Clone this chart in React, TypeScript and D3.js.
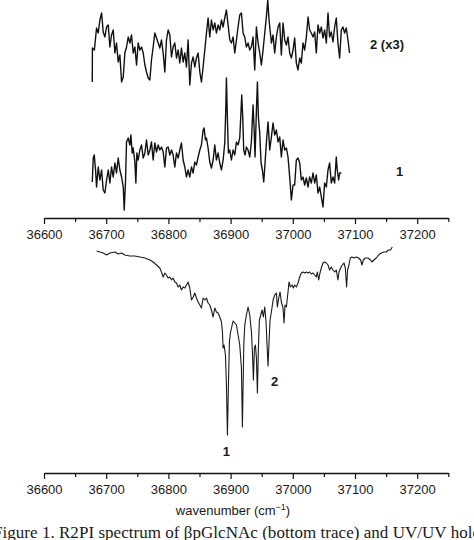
import React, { useEffect, useRef } from 'react';
import * as d3 from 'd3';

const WIDTH = 474;
const HEIGHT = 540;

const WAVENUMBER_DOMAIN = [36600, 37250];
const MAJOR_TICKS = [36600, 36700, 36800, 36900, 37000, 37100, 37200];
const MINOR_TICKS = [36650, 36750, 36850, 36950, 37050, 37150, 37250];

// UV/UV hole-burning spectrum via band 2 (x3) — [wavenumber, signal]
const TRACE_2_X3 = [
  [36677.6, 8], [36677.8, 42], [36681.0, 40], [36684.5, 62], [36687.2, 57], [36689.9, 70], [36692.6, 77], [36695.2, 58],
  [36697.9, 53], [36700.6, 63], [36703.3, 65], [36705.9, 43], [36708.6, 55], [36711.3, 60], [36714.0, 37], [36716.6, 47],
  [36719.3, 28], [36722.0, 35], [36724.7, 8], [36727.4, 13], [36730.0, 37], [36732.7, 43], [36735.4, 53], [36738.1, 47],
  [36740.7, 55], [36743.4, 37], [36746.1, 43], [36748.8, 25], [36751.4, 47], [36754.1, 40], [36756.8, 43], [36759.5, 37],
  [36762.2, 25], [36764.8, 18], [36767.5, 12], [36770.2, 10], [36772.8, 30], [36775.5, 43], [36778.2, 57], [36780.9, 52],
  [36783.6, 47], [36786.2, 42], [36788.9, 50], [36791.6, 37], [36794.3, 18], [36796.9, 50], [36799.6, 60], [36802.3, 55],
  [36805.0, 33], [36807.6, 43], [36810.3, 47], [36813.0, 32], [36815.7, 40], [36818.3, 27], [36821.0, 42], [36823.7, 28],
  [36826.4, 37], [36829.0, 23], [36831.7, 50], [36834.4, 5], [36837.1, 27], [36839.8, 33], [36842.4, 23], [36845.1, 32],
  [36847.8, 37], [36850.5, 18], [36853.1, 8], [36855.8, 23], [36858.5, 40], [36861.2, 57], [36863.8, 72], [36866.5, 53],
  [36869.2, 70], [36871.9, 60], [36874.6, 67], [36877.2, 57], [36879.9, 65], [36882.6, 60], [36885.3, 70], [36887.9, 63],
  [36890.6, 72], [36893.3, 80], [36896.0, 65], [36898.7, 50], [36901.3, 47], [36904.0, 53], [36906.7, 37], [36909.4, 50],
  [36912.0, 63], [36914.7, 75], [36917.4, 77], [36920.1, 57], [36922.7, 53], [36925.4, 43], [36928.1, 47], [36930.8, 40],
  [36933.4, 43], [36936.1, 53], [36938.8, 20], [36941.5, 63], [36944.2, 47], [36946.8, 37], [36949.5, 25], [36952.2, 40],
  [36954.9, 57], [36957.5, 73], [36959.7, 90], [36961.8, 70], [36964.0, 57], [36965.6, 47], [36968.2, 55], [36970.9, 37],
  [36973.6, 53], [36976.3, 63], [36979.0, 67], [36981.6, 35], [36984.3, 67], [36987.0, 50], [36989.7, 45], [36992.3, 53],
  [36995.0, 37], [36997.7, 32], [37000.4, 40], [37003.0, 52], [37005.7, 27], [37008.4, 20], [37011.1, 32], [37013.7, 27],
  [37016.4, 47], [37019.1, 40], [37021.8, 53], [37024.5, 73], [37027.1, 60], [37029.8, 57], [37032.5, 53], [37035.2, 58],
  [37037.8, 37], [37040.5, 65], [37043.2, 57], [37045.9, 63], [37048.5, 52], [37051.2, 60], [37053.9, 47], [37056.6, 77],
  [37059.2, 53], [37061.9, 58], [37064.6, 48], [37067.3, 63], [37069.9, 72], [37072.6, 47], [37075.3, 32], [37078.0, 60],
  [37080.6, 63], [37083.3, 57], [37086.0, 62], [37088.7, 50], [37091.3, 37],
];

// UV/UV hole-burning spectrum via band 1 — [wavenumber, signal]
const TRACE_1 = [
  [36677.6, 33], [36679.2, 57], [36680.8, 60], [36682.9, 45], [36684.5, 28], [36687.2, 48], [36689.9, 35], [36692.6, 45],
  [36695.2, 25], [36697.9, 22], [36700.6, 35], [36703.3, 45], [36705.9, 32], [36708.6, 48], [36711.3, 38], [36714.0, 52],
  [36716.6, 42], [36719.3, 57], [36722.0, 45], [36724.7, 38], [36727.4, 28], [36729.0, 5], [36731.1, 35], [36732.7, 73],
  [36735.4, 77], [36738.1, 70], [36739.7, 80], [36741.8, 62], [36743.4, 67], [36746.1, 53], [36747.7, 32], [36749.3, 62],
  [36751.4, 55], [36754.1, 65], [36756.8, 70], [36759.5, 57], [36762.2, 62], [36764.8, 75], [36767.5, 60], [36770.2, 65],
  [36772.8, 73], [36775.5, 55], [36778.2, 72], [36780.9, 63], [36783.6, 70], [36786.2, 65], [36788.9, 68], [36791.6, 63],
  [36794.3, 48], [36796.9, 67], [36799.6, 68], [36802.3, 60], [36805.0, 65], [36807.6, 60], [36810.3, 48], [36813.0, 62],
  [36815.7, 57], [36818.3, 65], [36821.0, 72], [36823.7, 55], [36826.4, 48], [36829.0, 38], [36831.7, 45], [36834.4, 38],
  [36837.1, 48], [36839.8, 42], [36842.4, 53], [36845.1, 50], [36847.8, 58], [36850.5, 65], [36853.1, 70], [36855.8, 85],
  [36857.4, 87], [36859.6, 75], [36861.2, 77], [36863.8, 67], [36866.5, 53], [36869.2, 47], [36871.9, 55], [36874.6, 70],
  [36877.2, 55], [36879.9, 62], [36882.6, 52], [36885.3, 45], [36888.0, 55], [36890.6, 72], [36892.2, 105], [36893.3, 137],
  [36894.9, 95], [36896.5, 62], [36898.7, 65], [36901.3, 55], [36904.0, 65], [36906.7, 60], [36909.4, 73], [36912.0, 70],
  [36914.7, 77], [36916.3, 98], [36917.9, 120], [36919.5, 98], [36921.1, 65], [36923.3, 60], [36925.4, 68], [36928.1, 65],
  [36930.8, 58], [36933.4, 73], [36936.1, 110], [36937.7, 88], [36939.3, 58], [36941.5, 105], [36943.1, 133], [36944.7, 98],
  [36946.8, 82], [36949.0, 52], [36951.1, 45], [36953.3, 33], [36955.4, 52], [36957.5, 72], [36960.2, 93], [36962.9, 65],
  [36965.6, 78], [36968.2, 92], [36970.9, 80], [36973.6, 85], [36976.3, 73], [36979.0, 78], [36981.6, 58], [36984.3, 75],
  [36987.0, 65], [36989.7, 67], [36992.3, 58], [36995.0, 38], [36997.7, 15], [37000.4, 30], [37003.0, 30], [37005.7, 55],
  [37008.4, 57], [37011.1, 52], [37013.7, 35], [37016.4, 38], [37019.1, 30], [37021.8, 37], [37024.5, 28], [37027.1, 38],
  [37029.8, 32], [37032.5, 42], [37035.2, 32], [37037.8, 40], [37040.5, 22], [37043.2, 28], [37045.9, 18], [37048.5, 8],
  [37051.2, 32], [37053.9, 28], [37056.6, 45], [37059.2, 52], [37061.9, 32], [37064.6, 38], [37067.3, 32], [37069.9, 58],
  [37071.5, 45], [37073.7, 35], [37075.3, 42], [37078.0, 42],
];

// R2PI spectrum (bottom trace) — [wavenumber, ion signal]
const R2PI = [
  [36684.5, 214], [36689.9, 213], [36695.2, 212], [36700.6, 210], [36705.9, 212], [36714.0, 213], [36719.3, 211], [36724.7, 212],
  [36730.0, 210], [36738.1, 209], [36746.1, 209], [36754.1, 208], [36762.2, 207], [36770.2, 205], [36775.5, 203], [36780.9, 200],
  [36786.2, 197], [36788.9, 193], [36791.6, 188], [36794.3, 192], [36796.9, 190], [36799.6, 187], [36802.3, 188], [36805.0, 185],
  [36807.6, 187], [36810.3, 183], [36813.0, 182], [36815.7, 178], [36818.3, 180], [36821.0, 175], [36823.7, 178], [36826.4, 177],
  [36829.0, 180], [36831.7, 183], [36834.4, 177], [36837.1, 165], [36839.8, 168], [36842.4, 172], [36845.1, 167], [36847.8, 163],
  [36850.5, 160], [36853.1, 157], [36855.8, 167], [36858.5, 165], [36861.2, 167], [36863.8, 162], [36866.5, 160], [36869.2, 155],
  [36871.9, 148], [36874.6, 157], [36877.2, 153], [36879.9, 152], [36882.6, 148], [36885.3, 143], [36886.9, 133], [36887.9, 117],
  [36889.5, 120], [36891.7, 110], [36893.3, 80], [36894.9, 30], [36896.5, 80], [36898.1, 123], [36899.7, 132], [36901.8, 138],
  [36904.0, 144], [36906.7, 142], [36909.4, 140], [36912.1, 130], [36914.7, 120], [36917.4, 97], [36919.0, 38], [36921.2, 120],
  [36922.8, 140], [36925.4, 150], [36928.1, 158], [36930.8, 150], [36933.5, 133], [36935.1, 113], [36936.7, 85], [36938.3, 117],
  [36939.9, 120], [36941.5, 107], [36943.1, 72], [36944.7, 117], [36946.3, 145], [36948.5, 150], [36950.6, 155], [36952.7, 148],
  [36954.9, 158], [36957.0, 143], [36958.6, 120], [36960.2, 99], [36961.8, 123], [36963.4, 145], [36965.6, 153], [36968.3, 165],
  [36970.9, 170], [36973.6, 172], [36975.2, 158], [36977.4, 167], [36979.5, 173], [36981.6, 163], [36984.3, 157], [36985.9, 142],
  [36987.5, 160], [36989.7, 158], [36992.3, 173], [36993.9, 183], [36996.1, 178], [36998.8, 180], [37000.9, 177], [37003.0, 180],
  [37005.7, 178], [37008.4, 182], [37011.1, 188], [37013.7, 192], [37016.4, 193], [37019.1, 192], [37021.8, 193], [37024.5, 192],
  [37027.1, 193], [37029.8, 191], [37032.5, 192], [37035.2, 190], [37037.8, 188], [37039.4, 193], [37041.6, 185], [37043.7, 192],
  [37045.9, 197], [37048.5, 202], [37051.2, 203], [37053.9, 202], [37056.6, 200], [37059.2, 195], [37061.9, 198], [37064.6, 195],
  [37067.3, 193], [37069.9, 195], [37072.6, 185], [37074.2, 193], [37076.9, 197], [37079.6, 200], [37082.3, 202], [37084.4, 197],
  [37086.5, 178], [37088.1, 195], [37090.3, 200], [37092.4, 207], [37095.1, 208], [37098.3, 207], [37102.1, 208], [37105.8, 207],
  [37109.0, 205], [37111.2, 200], [37113.3, 205], [37116.5, 207], [37120.8, 207], [37125.1, 205], [37127.2, 203], [37130.4, 205],
  [37134.2, 207], [37137.9, 210], [37142.2, 212], [37146.5, 213], [37150.2, 213], [37154.0, 215], [37157.2, 215], [37159.9, 218],
];

const TRACE_LABELS = ['2 (x3)', '1'];
const BAND_LABELS = [
  { text: '1', wavenumber: 36894.9 },
  { text: '2', wavenumber: 36960.2 },
];
const AXIS_TITLE = 'wavenumber (cm';
const CAPTION = 'Figure 1. R2PI spectrum of \u03b2pGlcNAc (bottom trace) and UV/UV hole';

const SANS = '"Liberation Sans", Arial, Helvetica, sans-serif';
const SERIF = '"Liberation Serif", "Times New Roman", Times, serif';

const x = d3.scaleLinear().domain(WAVENUMBER_DOMAIN).range([44, 448.3]);
const yTrace2 = d3.scaleLinear().domain([0, 90]).range([90, 0]);
const yTrace1 = d3.scaleLinear().domain([0, 140]).range([215, 75]);
const yR2PI = d3.scaleLinear().domain([0, 220]).range([465, 245]);

const TOP_AXIS_Y = 218;
const BOTTOM_AXIS_Y = 473;

function Axis({ y }: { y: number }) {
  const majorRef = useRef<SVGGElement>(null);
  const minorRef = useRef<SVGGElement>(null);
  useEffect(() => {
    const major = d3.select(majorRef.current);
    major.call(
      d3.axisBottom(x).tickValues(MAJOR_TICKS).tickSize(6).tickSizeOuter(0).tickPadding(6).tickFormat(d3.format('d')) as any
    );
    major.attr('font-family', SANS).attr('font-size', 13);
    major.selectAll('text').attr('fill', '#1a1a1a');
    major.selectAll('line').attr('stroke', '#111').attr('stroke-width', 1.2);
    major.select('.domain').attr('stroke', '#111').attr('stroke-width', 1.3);
    const minor = d3.select(minorRef.current);
    minor.call(d3.axisBottom(x).tickValues(MINOR_TICKS).tickSize(4).tickSizeOuter(0).tickFormat(() => '') as any);
    minor.select('.domain').remove();
    minor.selectAll('line').attr('stroke', '#111').attr('stroke-width', 1.2);
  }, []);
  return (
    <g transform={`translate(0,${y})`}>
      <g ref={majorRef} />
      <g ref={minorRef} />
    </g>
  );
}

export default function App() {
  const line2 = d3.line<number[]>().x((d) => x(d[0])).y((d) => yTrace2(d[1]));
  const line1 = d3.line<number[]>().x((d) => x(d[0])).y((d) => yTrace1(d[1]));
  const lineR = d3.line<number[]>().x((d) => x(d[0])).y((d) => yR2PI(d[1]));

  const band = (w: number) => R2PI.find((d) => d[0] === w)!;

  return (
    <svg
      width={WIDTH}
      height={HEIGHT}
      viewBox={`0 0 ${WIDTH} ${HEIGHT}`}
      style={{ position: 'absolute', left: 0, top: 0, background: '#fff' }}
    >
      <rect width={WIDTH} height={HEIGHT} fill="#fff" />
      <path d={line2(TRACE_2_X3) || ''} fill="none" stroke="#111" strokeWidth={1.4} strokeLinejoin="round" />
      <path d={line1(TRACE_1) || ''} fill="none" stroke="#111" strokeWidth={1.4} strokeLinejoin="round" />
      <path d={lineR(R2PI) || ''} fill="none" stroke="#1a1a1a" strokeWidth={1.1} strokeLinejoin="round" />

      <text x={370} y={49} fontFamily={SANS} fontSize={13} fontWeight="bold" fill="#1a1a1a">
        {TRACE_LABELS[0]}
      </text>
      <text x={396} y={176} fontFamily={SANS} fontSize={13} fontWeight="bold" fill="#1a1a1a">
        {TRACE_LABELS[1]}
      </text>

      <text
        x={x(band(BAND_LABELS[0].wavenumber)[0]) - 1}
        y={yR2PI(band(BAND_LABELS[0].wavenumber)[1]) + 21}
        textAnchor="middle"
        fontFamily={SANS}
        fontSize={13}
        fontWeight="bold"
        fill="#1a1a1a"
      >
        {BAND_LABELS[0].text}
      </text>
      <text
        x={x(band(BAND_LABELS[1].wavenumber)[0]) + 3}
        y={yR2PI(band(BAND_LABELS[1].wavenumber)[1]) + 20}
        fontFamily={SANS}
        fontSize={13}
        fontWeight="bold"
        fill="#1a1a1a"
      >
        {BAND_LABELS[1].text}
      </text>

      <Axis y={TOP_AXIS_Y} />
      <Axis y={BOTTOM_AXIS_Y} />

      <text x={233} y={515} textAnchor="middle" fontFamily={SANS} fontSize={13} fill="#1a1a1a">
        {AXIS_TITLE}
        <tspan fontSize={9} dy={-5}>
          {'\u22121'}
        </tspan>
        <tspan dy={5}>)</tspan>
      </text>

      <text x={-7} y={538} fontFamily={SERIF} fontSize={17} textLength={487} lengthAdjust="spacing" fill="#1a1a1a">
        {CAPTION}
      </text>
    </svg>
  );
}
